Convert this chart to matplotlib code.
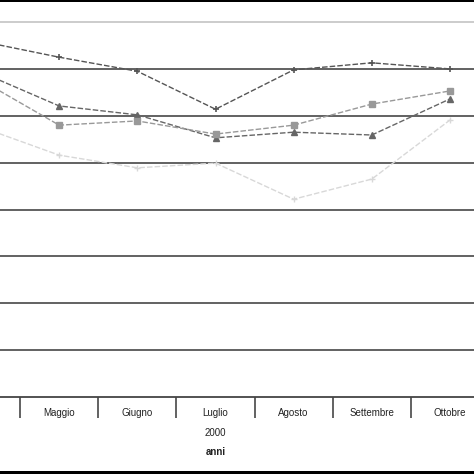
import numpy as np
import matplotlib
matplotlib.use("Agg")
import matplotlib.pyplot as plt
import matplotlib.transforms as mtransforms

plt.rcParams['font.family'] = ['Liberation Sans', 'DejaVu Sans']

# categories; the first and last ones are cut off in the picture, their labels are not shown
mesi = ["", "Maggio", "Giugno", "Luglio", "Agosto", "Settembre", "Ottobre", ""]

# series values, one per month from the cut-off first month to Ottobre
serie_a = [75.9, 72.5, 69.5, 61.4, 69.8, 71.3, 70.0]
serie_b = [69.3, 62.1, 60.2, 55.3, 56.5, 55.9, 63.6]
serie_c = [67.6, 58.0, 58.9, 56.1, 58.0, 62.5, 65.3]
serie_d = [57.6, 51.6, 48.9, 49.9, 42.2, 46.5, 59.1]

griglia = [10, 20, 30, 40, 50, 60, 70]

fig = plt.figure(figsize=(4.74, 4.74), dpi=100)
ax = fig.add_axes([0.0, 0.1624, 1.0, 0.7911])

for g in griglia:
    ax.axhline(g, color="#555555", lw=1.3, zorder=1)

x = np.arange(len(serie_a))
ax.plot(x, serie_a, color="#555555", lw=1.0, ls=(0, (4, 1.5)), marker="+",
        ms=5, mew=1.2, zorder=3)
ax.plot(x, serie_b, color="#666666", lw=1.0, ls=(0, (4, 1.5)), marker="^",
        ms=4, zorder=3)
ax.plot(x, serie_c, color="#999999", lw=1.0, ls=(0, (4, 1.5)), marker="s",
        ms=4, zorder=3)
ax.plot(x, serie_d, color="#d8d8d8", lw=1.0, ls=(0, (4, 1.5)), marker="+",
        ms=4, mew=1.0, zorder=3)

for s in ["left", "right"]:
    ax.spines[s].set_visible(False)
ax.spines["top"].set_color("#c8c8c8")
ax.spines["top"].set_linewidth(1.3)
ax.spines["bottom"].set_color("#444444")
ax.spines["bottom"].set_linewidth(1.3)

ax.set_yticks([])
ax.set_xticks(np.arange(len(mesi)) + 0.5)
ax.set_xticklabels([])
ax.tick_params(axis="x", which="major", direction="out", length=15,
               width=1.3, color="#555555")
ax.set_xticks(np.arange(len(mesi)), minor=True)
ax.set_xticklabels(mesi, minor=True, fontsize=7, color="#222222")
ax.tick_params(axis="x", which="minor", length=0, pad=8)

ax.set_xlim(0.243, 6.307)
ax.set_ylim(0, 80)

trans = mtransforms.blended_transform_factory(ax.transData, fig.transFigure)
fig.text(3, 0.086, "2000", transform=trans, ha="center", va="center",
         fontsize=7, color="#222222")
fig.text(3, 0.046, "anni", transform=trans, ha="center", va="center",
         fontsize=7, fontweight="bold", color="#222222")

# black frame bands at top and bottom
fig.add_artist(plt.Rectangle((0, 0.9955), 1, 0.0045, transform=fig.transFigure,
                             color="black", lw=0))
fig.add_artist(plt.Rectangle((0, 0), 1, 0.0065, transform=fig.transFigure,
                             color="black", lw=0))

fig.savefig("out.png", dpi=100)
